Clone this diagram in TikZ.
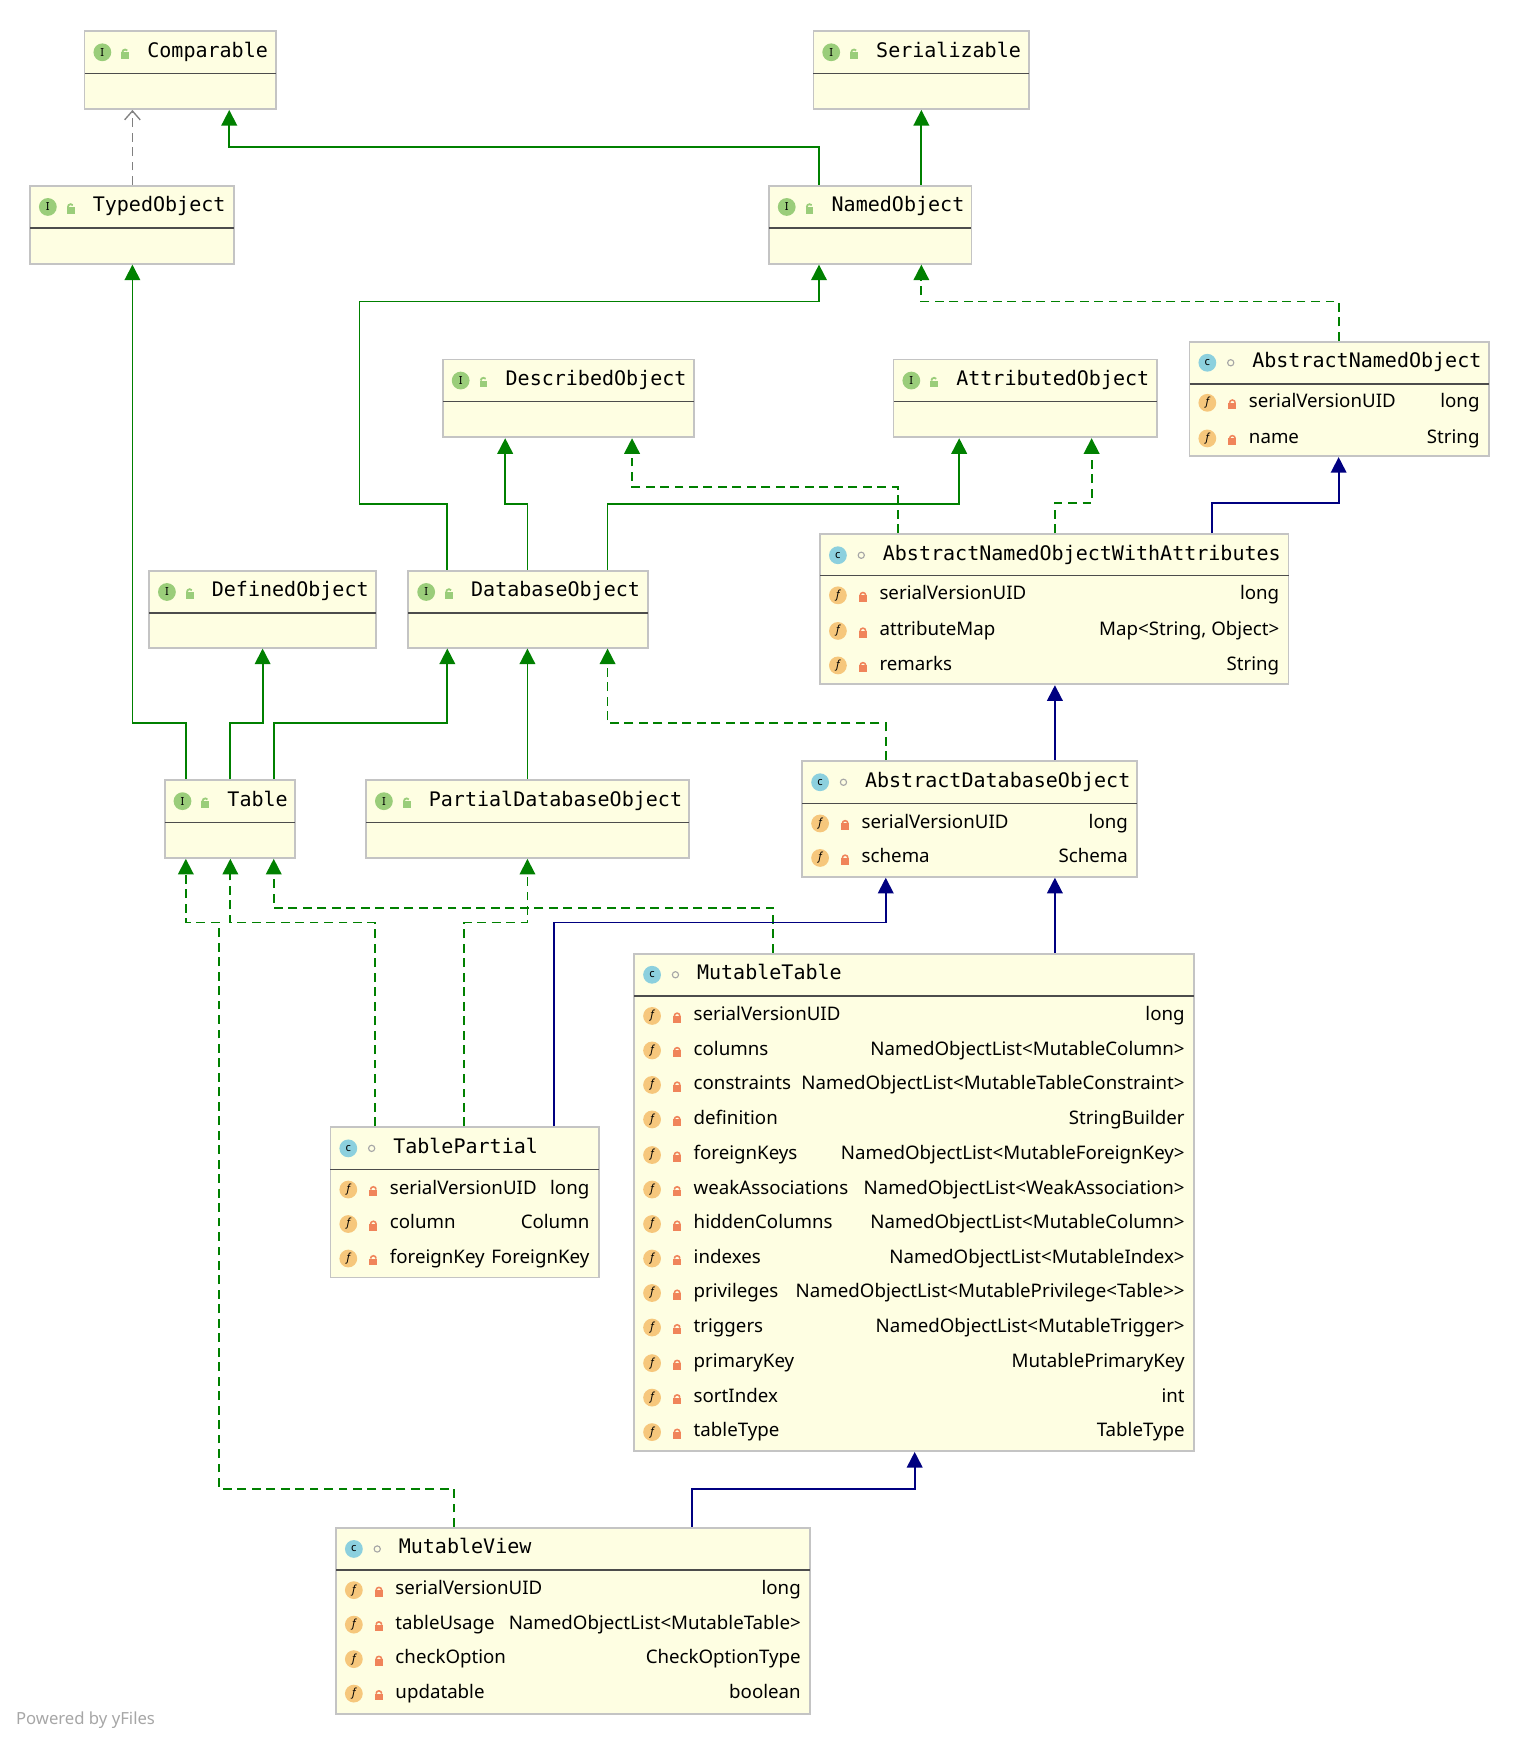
\documentclass[tikz,border=0pt]{standalone}
\usepackage{fontspec}
\usetikzlibrary{calc,arrows.meta}
\newfontfamily\monof{DejaVu Sans Mono}
\newfontfamily\sansf{Noto Sans}
\definecolor{bfill}{HTML}{FEFEE2}
\definecolor{bdraw}{HTML}{C4C4C4}
\definecolor{ggreen}{HTML}{008000}
\definecolor{nblue}{HTML}{000080}
\definecolor{igreen}{HTML}{9ACD7A}
\definecolor{cblue}{HTML}{8CD0DE}
\definecolor{forange}{HTML}{F6C77C}
\definecolor{lockr}{HTML}{F0845A}
\tikzset{
 box/.style={draw=bdraw,fill=bfill,line width=0.8pt,inner sep=0,rectangle},
 divl/.style={draw=black!70,line width=0.6pt},
 title/.style={anchor=west,inner sep=0,text height=6.5pt,text depth=2pt,font=\monof\fontsize{9}{10}\selectfont},
 fname/.style={anchor=west,inner sep=0,text height=6.2pt,text depth=2pt,font=\sansf\fontsize{8.4}{9}\selectfont},
 ftype/.style={anchor=east,inner sep=0,text height=6.2pt,text depth=2pt,font=\sansf\fontsize{8.4}{9}\selectfont},
 badge/.style={circle,inner sep=0,minimum size=8pt,font=\sansf\fontsize{5}{5}\selectfont},
 inh/.style={ggreen,line width=0.8pt,-{Triangle[length=7pt,width=7pt]}},
 impl/.style={ggreen,line width=0.8pt,dashed,dash pattern=on 4pt off 2.5pt,-{Triangle[length=7pt,width=7pt]}},
 cinh/.style={nblue,line width=0.8pt,-{Triangle[length=7pt,width=7pt]}},
 dep/.style={gray,line width=0.6pt,dash pattern=on 4pt off 2.5pt,-{Straight Barb[length=4pt,width=7pt]}},
}
\newcommand\umlbox[6]{% name x1 y1 x2 y2 divider
 \pgfmathsetmacro\bcx{(#2+#4)/2}\pgfmathsetmacro\bcy{(#3+#5)/2}
 \pgfmathsetmacro\bbw{(#4-#2)*0.5}\pgfmathsetmacro\bbh{(#5-#3)*0.5}
 \node[box,minimum width=\bbw pt,minimum height=\bbh pt] (#1) at (\bcx,\bcy) {};
 \draw[divl] (#2,#6) -- (#4,#6);}
\newcommand\ihdr[3]{% x1 y title (interface)
 \node[badge,fill=igreen] at ($(#1,#2)+(16,0)$) {\bfseries I};
 \fill[igreen] ($(#1,#2)+(33,0)$) rectangle ($(#1,#2)+(40,6)$);
 \draw[igreen,line width=0.8pt] ($(#1,#2)+(34,0)$) arc (180:320:2.5);
 \node[title] at ($(#1,#2)+(56,0)$) {#3};}
\newcommand\chdr[3]{% x1 y title (class)
 \node[badge,fill=cblue] at ($(#1,#2)+(16,0)$) {c};
 \draw[gray!70,line width=0.5pt] ($(#1,#2)+(37,0)$) circle (1.4pt);
 \node[title] at ($(#1,#2)+(56,0)$) {#3};}
\newcommand\row[5]{% x1 x2 y name type
 \node[badge,fill=forange] at ($(#1,#3)+(16,0)$) {\itshape f};
 \fill[lockr] ($(#1,#3)+(35,0)$) rectangle ($(#1,#3)+(42,6)$);
 \draw[lockr,line width=0.7pt] ($(#1,#3)+(36,0)$) arc (180:360:2.5);
 \node[fname] at ($(#1,#3)+(53,0)$) {#4};
 \node[ftype] at ($(#2,#3)+(-8,0)$) {#5};}
\begin{document}
\begin{tikzpicture}[x=0.5pt,y=-0.5pt]
\useasboundingbox (0,0) rectangle (1360,1561);
% boxes
\umlbox{comp}{76}{28}{248}{98}{66}\ihdr{76}{47}{Comparable}
\umlbox{ser}{731}{28}{925}{98}{66}\ihdr{731}{47}{Serializable}
\umlbox{typed}{27}{167}{210}{237}{205}\ihdr{27}{186}{TypedObject}
\umlbox{named}{691}{167}{873}{237}{205}\ihdr{691}{186}{NamedObject}
\umlbox{desc}{398}{323}{624}{393}{361}\ihdr{398}{342}{DescribedObject}
\umlbox{attr}{803}{323}{1040}{393}{361}\ihdr{803}{342}{AttributedObject}
\umlbox{ano}{1069}{307}{1338}{410}{345}\chdr{1069}{326}{AbstractNamedObject}
\row{1069}{1338}{362}{serialVersionUID}{long}
\row{1069}{1338}{394}{name}{String}
\umlbox{anowa}{737}{480}{1158}{615}{517}\chdr{737}{499}{AbstractNamedObjectWithAttributes}
\row{737}{1158}{535}{serialVersionUID}{long}
\row{737}{1158}{567}{attributeMap}{Map<String, Object>}
\row{737}{1158}{598}{remarks}{String}
\umlbox{defd}{134}{513}{338}{582}{551}\ihdr{134}{532}{DefinedObject}
\umlbox{dbo}{367}{513}{582}{582}{551}\ihdr{367}{532}{DatabaseObject}
\umlbox{table}{148}{701}{265}{771}{739}\ihdr{148}{720}{Table}
\umlbox{pdo}{329}{701}{619}{771}{739}\ihdr{329}{720}{PartialDatabaseObject}
\umlbox{ado}{721}{684}{1022}{788}{722}\chdr{721}{703}{AbstractDatabaseObject}
\row{721}{1022}{740}{serialVersionUID}{long}
\row{721}{1022}{771}{schema}{Schema}
\umlbox{mt}{570}{857}{1073}{1304}{895}\chdr{570}{876}{MutableTable}
\row{570}{1073}{913}{serialVersionUID}{long}
\row{570}{1073}{944}{columns}{NamedObjectList<MutableColumn>}
\row{570}{1073}{975}{constraints}{NamedObjectList<MutableTableConstraint>}
\row{570}{1073}{1006}{definition}{StringBuilder}
\row{570}{1073}{1038}{foreignKeys}{NamedObjectList<MutableForeignKey>}
\row{570}{1073}{1069}{weakAssociations}{NamedObjectList<WeakAssociation>}
\row{570}{1073}{1100}{hiddenColumns}{NamedObjectList<MutableColumn>}
\row{570}{1073}{1131}{indexes}{NamedObjectList<MutableIndex>}
\row{570}{1073}{1162}{privileges}{NamedObjectList<MutablePrivilege<Table>>}
\row{570}{1073}{1193}{triggers}{NamedObjectList<MutableTrigger>}
\row{570}{1073}{1225}{primaryKey}{MutablePrimaryKey}
\row{570}{1073}{1256}{sortIndex}{int}
\row{570}{1073}{1287}{tableType}{TableType}
\umlbox{tp}{297}{1013}{538}{1148}{1051}\chdr{297}{1032}{TablePartial}
\row{297}{538}{1069}{serialVersionUID}{long}
\row{297}{538}{1100}{column}{Column}
\row{297}{538}{1131}{foreignKey}{ForeignKey}
\umlbox{mv}{302}{1373}{728}{1540}{1411}\chdr{302}{1392}{MutableView}
\row{302}{728}{1429}{serialVersionUID}{long}
\row{302}{728}{1460}{tableUsage}{NamedObjectList<MutableTable>}
\row{302}{728}{1491}{checkOption}{CheckOptionType}
\row{302}{728}{1522}{updatable}{boolean}
\node[anchor=west,inner sep=0,text=gray!70,font=\sansf\fontsize{7.5}{8}\selectfont] (pw) at (14,1546) {Powered by yFiles};
% connectors
\draw[dep] (typed.north -| 119,0) -- (comp.south -| 119,0);
\draw[inh] (named.north -| 736,0) |- (206,132) -- (comp.south -| 206,0);
\draw[inh] (named.north -| 828,0) -- (ser.south -| 828,0);
\draw[inh] (table.north -| 167,0) |- (119,650) -- (typed.south -| 119,0);
\draw[inh] (dbo.north -| 402,0) |- (323,453) |- (736,271) -- (named.south -| 736,0);
\draw[impl] (ano.north -| 1203,0) |- (828,271) -- (named.south -| 828,0);
\draw[inh] (dbo.north -| 474,0) |- (454,453) -- (desc.south -| 454,0);
\draw[inh] (dbo.north -| 546,0) |- (862,453) -- (attr.south -| 862,0);
\draw[impl] (anowa.north -| 807,0) |- (568,438) -- (desc.south -| 568,0);
\draw[impl] (anowa.north -| 948,0) |- (981,452) -- (attr.south -| 981,0);
\draw[cinh] (anowa.north -| 1089,0) |- (1203,452) -- (ano.south -| 1203,0);
\draw[inh] (table.north -| 207,0) |- (236,650) -- (defd.south -| 236,0);
\draw[inh] (table.north -| 246,0) |- (402,650) -- (dbo.south -| 402,0);
\draw[inh] (pdo.north -| 474,0) -- (dbo.south -| 474,0);
\draw[impl] (ado.north -| 796,0) |- (546,650) -- (dbo.south -| 546,0);
\draw[cinh] (ado.north -| 948,0) -- (anowa.south -| 948,0);
\draw[cinh] (mt.north -| 948,0) -- (ado.south -| 948,0);
\draw[impl] (mt.north -| 695,0) |- (246,816) -- (table.south -| 246,0);
\draw[impl] (tp.north -| 337,0) |- (207,829) -- (table.south -| 207,0);
\draw[impl] (tp.north -| 417,0) |- (474,829) -- (pdo.south -| 474,0);
\draw[cinh] (tp.north -| 498,0) |- (796,829) -- (ado.south -| 796,0);
\draw[impl] (mv.north -| 408,0) |- (197,1338) |- (167,829) -- (table.south -| 167,0);
\draw[cinh] (mv.north -| 622,0) |- (822,1338) -- (mt.south -| 822,0);
\end{tikzpicture}
\end{document}
